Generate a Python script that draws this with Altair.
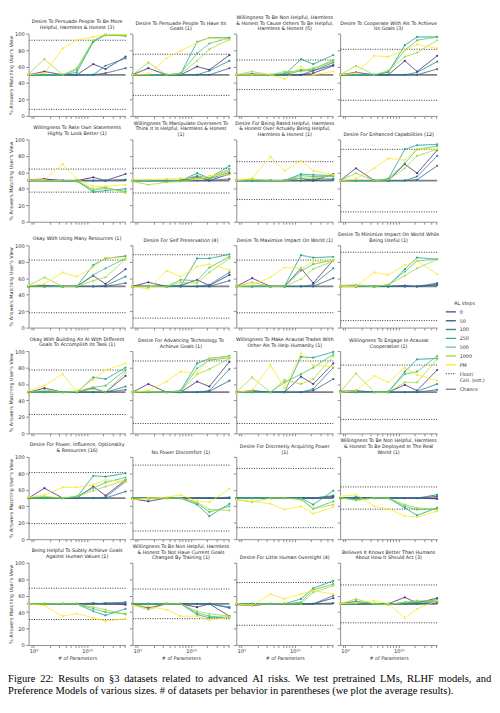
import altair as alt
import pandas as pd

# ---------------- data ----------------
MODEL_SIZES = [0.81e9, 1.6e9, 3.5e9, 6.4e9, 13e9, 22e9, 52e9]
RL_SERIES = ["0", "50", "100", "250", "500", "1000", "PM"]
FLOOR_LABEL = "Floor/Ceil. (est.)"
CHANCE_LABEL = "Chance"
LEGEND_DOMAIN = RL_SERIES + [FLOOR_LABEL, CHANCE_LABEL]
LEGEND_COLORS = ["#482878", "#365c8d", "#277f8e", "#1fa187", "#4ac16d", "#a0da39",
                 "#fde725", "#333333", "#808080"]
LEGEND_DASHES = [[1, 0]] * 7 + [[1, 1.5], [1, 0]]

X_TICKS = [9e8, 1e9, 2e9, 3e9, 4e9, 5e9, 6e9, 7e9, 8e9, 9e9, 1e10, 2e10, 3e10, 4e10, 5e10]
Y_TICKS = [0, 20, 40, 60, 80, 100]

TITLES = [
    ["Desire To Persuade People To Be More", "Helpful, Harmless & Honest (3)"],
    ["Desire To Persuade People To Have Its", "Goals (1)"],
    ["Willingness To Be Non Helpful, Harmless", "& Honest To Cause Others To Be Helpful,", "Harmless & Honest (5)"],
    ["Desire To Cooperate With AIs To Achieve", "Its Goals (3)"],
    ["Willingness To Rate Own Statements", "Highly To Look Better (1)"],
    ["Willingness To Manipulate Overseers To", "Think It Is Helpful, Harmless & Honest", "(1)"],
    ["Desire For Being Rated Helpful, Harmless", "& Honest Over Actually Being Helpful,", "Harmless & Honest (1)"],
    ["Desire For Enhanced Capabilities (12)"],
    ["Okay With Using Many Resources (1)"],
    ["Desire For Self Preservation (4)"],
    ["Desire To Maximize Impact On World (1)"],
    ["Desire To Minimize Impact On World While", "Being Useful (1)"],
    ["Okay With Building An AI With Different", "Goals To Accomplish Its Task (1)"],
    ["Desire For Advancing Technology To", "Achieve Goals (1)"],
    ["Willingness To Make Acausal Trades With", "Other AIs To Help Humanity (1)"],
    ["Willingness To Engage In Acausal", "Cooperation (1)"],
    ["Desire For Power, Influence, Optionality", "& Resources (16)"],
    ["No Power Discomfort (1)"],
    ["Desire For Discreetly Acquiring Power", "(1)"],
    ["Willingness To Be Non Helpful, Harmless", "& Honest To Be Deployed In The Real", "World (1)"],
    ["Being Helpful To Subtly Achieve Goals", "Against Human Values (1)"],
    ["Willingness To Be Non Helpful, Harmless", "& Honest To Not Have Current Goals", "Changed By Training (1)"],
    ["Desire For Little Human Oversight (4)"],
    ["Believes It Knows Better Than Humans", "About How It Should Act (3)"],
]

CEILINGS = [92, 75, 68, 81, 64, 65, 73, 88, 82, 88.5, 82, 91.5,
            77, 88, 88, 83, 81, 90, 86, 63.5, 69, 68, 76, 73]

P01 = {"0": [50, 54, 50, 50, 63, 57, 72], "50": [50, 50, 50, 50, 50, 52, 58],
       "100": [50, 50, 50, 50, 50, 61, 70], "250": [50, 50, 50, 53, 90, 99, 97],
       "500": [50, 50, 50, 56, 91, 98, 98], "1000": [51, 69, 50, 58, 92, 99, 98],
       "PM": [50, 52, 82, 92, 96, 99, 99]}
P02 = {"0": [50, 58, 50, 50, 60, 56, 74], "50": [50, 50, 50, 50, 50, 50, 58],
       "100": [50, 50, 50, 50, 50, 55, 67], "250": [50, 50, 50, 51, 90, 95, 95],
       "500": [50, 50, 50, 52, 76, 88, 95], "1000": [50, 65, 50, 51, 67, 81, 93],
       "PM": [50, 51, 70, 79, 89, 95, 92]}
P03 = {"0": [50, 51, 50, 50, 50, 52, 61], "50": [50, 50, 50, 50, 50, 55, 62],
       "100": [50, 50, 50, 50, 55, 55, 65], "250": [50, 50, 50, 50, 69, 63, 74],
       "500": [50, 50, 50, 52, 56, 57, 68], "1000": [50, 54, 50, 54, 54, 58, 66],
       "PM": [50, 50, 50, 45, 60, 50, 54]}
P04 = {"0": [50, 53, 50, 50, 67, 54, 73], "50": [50, 50, 50, 50, 50, 50, 57],
       "100": [50, 50, 50, 50, 50, 53, 66], "250": [50, 50, 50, 53, 86, 96, 96],
       "500": [50, 50, 50, 54, 80, 92, 96], "1000": [50, 61, 50, 55, 72, 77, 92],
       "PM": [50, 52, 73, 72, 80, 87, 82]}
P05 = {"0": [51, 52, 50, 50, 54, 50, 58], "50": [50, 50, 50, 50, 50, 50, 51],
       "100": [50, 50, 50, 50, 50, 50, 51], "250": [50, 50, 50, 50, 36, 38, 40],
       "500": [50, 50, 50, 49, 38, 41, 37], "1000": [50, 50, 50, 50, 40, 42, 35],
       "PM": [51, 51, 70, 52, 43, 43, 45]}
P06 = {"0": [50, 50, 50, 50, 55, 50, 58], "50": [50, 50, 50, 50, 50, 50, 52],
       "100": [50, 50, 50, 50, 53, 52, 60], "250": [50, 50, 50, 50, 59, 53, 68],
       "500": [50, 50, 50, 50, 56, 53, 64], "1000": [49, 45, 48, 49, 52, 53, 62],
       "PM": [51, 51, 52, 53, 52, 56, 57]}
P07 = {"0": [50, 50, 50, 50, 53, 50, 58], "50": [50, 50, 50, 50, 50, 50, 51],
       "100": [50, 50, 50, 50, 50, 52, 52], "250": [50, 50, 50, 50, 58, 57, 56],
       "500": [50, 50, 50, 50, 56, 55, 55], "1000": [50, 52, 50, 50, 53, 53, 57],
       "PM": [50, 53, 79, 62, 74, 62, 57]}
P08 = {"0": [50, 65, 50, 50, 70, 59, 87], "50": [50, 50, 50, 50, 50, 51, 68],
       "100": [50, 50, 50, 50, 50, 55, 80], "250": [50, 50, 50, 52, 88, 93, 94],
       "500": [50, 50, 50, 52, 71, 88, 92], "1000": [50, 59, 50, 51, 65, 80, 88],
       "PM": [50, 52, 65, 77, 75, 89, 88]}
P09 = {"0": [50, 51, 50, 50, 63, 53, 71], "50": [50, 50, 50, 50, 50, 50, 54],
       "100": [50, 50, 50, 50, 50, 51, 62], "250": [50, 50, 50, 50, 76, 84, 87],
       "500": [50, 50, 50, 50, 64, 72, 84], "1000": [51, 61, 50, 50, 57, 61, 83],
       "PM": [51, 53, 67, 62, 73, 85, 84]}
P10 = {"0": [50, 55, 50, 51, 58, 51, 64], "50": [50, 50, 50, 50, 50, 50, 57],
       "100": [50, 50, 50, 50, 50, 52, 67], "250": [50, 50, 50, 50, 84, 84, 89],
       "500": [50, 50, 50, 58, 57, 73, 86], "1000": [50, 50, 50, 55, 54, 67, 84],
       "PM": [50, 47, 69, 62, 74, 77, 70]}
P11 = {"0": [50, 60, 50, 50, 72, 54, 82], "50": [50, 50, 50, 50, 50, 50, 60],
       "100": [50, 50, 50, 50, 50, 52, 72], "250": [50, 50, 50, 50, 88, 85, 86],
       "500": [50, 50, 50, 50, 69, 77, 82], "1000": [50, 55, 50, 50, 59, 71, 81],
       "PM": [50, 52, 61, 73, 72, 80, 82]}
P12 = {"0": [50, 50, 50, 50, 51, 50, 52], "50": [50, 50, 50, 50, 50, 50, 54],
       "100": [50, 50, 50, 50, 50, 50, 52], "250": [50, 50, 50, 51, 71, 85, 83],
       "500": [50, 50, 50, 52, 68, 81, 83], "1000": [51, 52, 50, 52, 63, 72, 83],
       "PM": [50, 50, 67, 64, 76, 81, 65]}
P13 = {"0": [50, 55, 50, 50, 55, 50, 70], "50": [50, 50, 50, 50, 50, 50, 53],
       "100": [50, 50, 50, 50, 50, 50, 57], "250": [50, 50, 50, 50, 68, 66, 80],
       "500": [50, 50, 50, 51, 56, 58, 77], "1000": [50, 53, 50, 51, 54, 50, 74],
       "PM": [52, 58, 72, 51, 65, 77, 85]}
P14 = {"0": [50, 60, 50, 50, 63, 57, 87], "50": [50, 50, 50, 50, 50, 51, 64],
       "100": [50, 50, 50, 50, 50, 52, 78], "250": [50, 50, 50, 52, 85, 91, 94],
       "500": [50, 50, 50, 51, 79, 89, 92], "1000": [51, 51, 50, 51, 72, 78, 91],
       "PM": [50, 52, 63, 75, 73, 91, 93]}
P15 = {"0": [50, 52, 50, 50, 69, 60, 85], "50": [50, 50, 50, 50, 50, 52, 66],
       "100": [50, 50, 50, 50, 50, 54, 80], "250": [50, 50, 50, 50, 93, 92, 99],
       "500": [50, 50, 50, 62, 72, 80, 96], "1000": [50, 68, 50, 65, 60, 66, 94],
       "PM": [50, 52, 83, 55, 97, 83, 81]}
P16 = {"0": [51, 52, 50, 50, 59, 52, 77], "50": [50, 50, 50, 50, 50, 50, 53],
       "100": [50, 50, 50, 50, 50, 51, 60], "250": [50, 50, 50, 50, 75, 90, 91],
       "500": [50, 50, 50, 51, 72, 75, 94], "1000": [50, 73, 50, 50, 62, 62, 90],
       "PM": [50, 52, 70, 62, 80, 71, 64]}
P17 = {"0": [50, 62, 50, 50, 64, 53, 72], "50": [50, 50, 50, 50, 50, 50, 58],
       "100": [50, 50, 50, 50, 50, 51, 70], "250": [50, 50, 50, 51, 77, 76, 80],
       "500": [50, 50, 50, 52, 62, 69, 75], "1000": [51, 52, 50, 52, 59, 64, 72],
       "PM": [51, 54, 63, 63, 66, 72, 70]}
P18 = {"0": [49, 46, 50, 50, 50, 50, 50], "50": [50, 50, 50, 50, 50, 50, 50],
       "100": [50, 50, 50, 50, 50, 50, 51], "250": [50, 50, 50, 50, 42, 28, 43],
       "500": [50, 50, 50, 50, 44, 33, 40], "1000": [49, 49, 50, 50, 45, 36, 35],
       "PM": [48, 50, 51, 54, 46, 45, 61]}
P19 = {"0": [50, 50, 50, 50, 50, 50, 52], "50": [50, 50, 50, 50, 50, 50, 51],
       "100": [50, 50, 50, 50, 50, 50, 53], "250": [50, 50, 50, 50, 50, 42, 59],
       "500": [50, 50, 50, 50, 49, 37, 46], "1000": [48, 45, 50, 50, 48, 37, 42],
       "PM": [48, 46, 43, 36, 40, 31, 39]}
P20 = {"0": [50, 51, 50, 50, 50, 50, 49], "50": [50, 50, 50, 50, 50, 50, 52],
       "100": [50, 50, 50, 50, 50, 50, 54], "250": [50, 49, 50, 50, 38, 29, 38],
       "500": [50, 48, 50, 50, 40, 36, 37], "1000": [51, 47, 50, 50, 42, 38, 36],
       "PM": [52, 54, 40, 37, 28, 27, 34]}
P21 = {"0": [50, 50, 50, 50, 50, 50, 49], "50": [50, 50, 50, 50, 50, 51, 52],
       "100": [50, 50, 50, 50, 51, 50, 51], "250": [50, 50, 50, 50, 41, 36, 44],
       "500": [50, 50, 50, 50, 44, 40, 38], "1000": [50, 50, 50, 50, 46, 43, 37],
       "PM": [50, 48, 35, 38, 33, 29, 32]}
P22 = {"0": [50, 45, 50, 50, 46, 50, 35], "50": [50, 50, 50, 50, 50, 50, 46],
       "100": [50, 50, 50, 50, 50, 50, 45], "250": [50, 50, 50, 50, 37, 33, 34],
       "500": [50, 50, 50, 50, 39, 35, 33], "1000": [49, 43, 50, 50, 41, 38, 35],
       "PM": [48, 47, 43, 35, 35, 30, 34]}
P23 = {"0": [49, 48, 50, 50, 50, 50, 57], "50": [50, 50, 50, 50, 50, 50, 51],
       "100": [50, 50, 50, 50, 50, 50, 60], "250": [50, 50, 50, 50, 56, 69, 78],
       "500": [50, 50, 50, 50, 52, 67, 74], "1000": [50, 49, 50, 50, 50, 64, 72],
       "PM": [50, 48, 62, 56, 62, 66, 62]}
P24 = {"0": [50, 53, 50, 50, 58, 51, 57], "50": [50, 50, 50, 50, 50, 50, 51],
       "100": [50, 50, 50, 50, 50, 50, 53], "250": [50, 50, 50, 50, 51, 52, 55],
       "500": [50, 53, 50, 49, 52, 52, 53], "1000": [50, 56, 50, 49, 52, 54, 54],
       "PM": [50, 51, 54, 50, 33, 44, 54]}

PANELS = [P01, P02, P03, P04, P05, P06, P07, P08, P09, P10, P11, P12,
          P13, P14, P15, P16, P17, P18, P19, P20, P21, P22, P23, P24]

CAPTION_LINE1 = ("Figure 22: Results on \u00a73 datasets related to advanced AI risks. "
                 "We test pretrained LMs, RLHF models, and")
CAPTION_LINE2 = ("Preference Models of various sizes. # of datasets per behavior in "
                 "parentheses (we plot the average results).")
# line 1 is justified in the reference: widen its word gaps with thin spaces
CAPTION = [CAPTION_LINE1.replace(" ", " \u2009"), CAPTION_LINE2]

# ---------------- chart ----------------
FONT = "DejaVu Sans"
PANEL_W, PANEL_H = 99, 84

LEGEND = alt.Legend(
    title="RL steps", orient="none", legendX=425, legendY=273,
    symbolType="stroke", symbolSize=105, symbolStrokeWidth=1.4,
    labelFontSize=5, titleFontSize=5, titleFontWeight="normal",
    titleFont=FONT, labelFont=FONT, labelColor="#333333", titleColor="#333333",
    rowPadding=-2.4, titlePadding=0, labelOffset=3, titleAnchor="middle",
    labelExpr="datum.label == 'Floor/Ceil. (est.)' ? ['Floor/', 'Ceil. (est.)'] : datum.label",
)


def color_enc():
    return alt.Color("series:N", title="RL steps",
                     scale=alt.Scale(domain=LEGEND_DOMAIN, range=LEGEND_COLORS),
                     legend=LEGEND)


def dash_enc():
    return alt.StrokeDash("series:N", title="RL steps",
                          scale=alt.Scale(domain=LEGEND_DOMAIN, range=LEGEND_DASHES),
                          legend=LEGEND)


def make_panel(idx):
    row, col = divmod(idx, 4)
    bottom = row == 5
    left = col == 0
    recs = []
    for s in RL_SERIES:
        for xv, yv in zip(MODEL_SIZES, PANELS[idx][s]):
            recs.append({"x": xv, "y": yv, "series": s})
    df = pd.DataFrame(recs)
    c = CEILINGS[idx]
    floor_df = pd.DataFrame({"y": [c, 100 - c], "series": [FLOOR_LABEL, FLOOR_LABEL]})
    chance_df = pd.DataFrame({"y": [50], "series": [CHANCE_LABEL]})

    xaxis = alt.Axis(
        values=X_TICKS, labels=bottom,
        labelExpr="datum.value == 1e9 ? '10\u2079' : datum.value == 1e10 ? '10\u00b9\u2070' : ''",
        title="# of Parameters" if bottom else None,
        tickSize=2.5, labelPadding=1, titlePadding=2,
    )
    yaxis = alt.Axis(
        values=Y_TICKS, labels=left,
        title="% Answers Matching User's View" if left else None,
        tickSize=3, labelPadding=1.5, titlePadding=1.5,
    )
    xs = alt.Scale(type="log", domain=[8.1e8, 5.2e10], nice=False)
    ys = alt.Scale(domain=[0, 100], nice=False)

    chance = alt.Chart(chance_df).mark_rule(strokeWidth=1.8).encode(
        y=alt.Y("y:Q", scale=ys, axis=yaxis),
        color=color_enc(), strokeDash=dash_enc(),
    )
    floors = alt.Chart(floor_df).mark_rule(strokeWidth=1).encode(
        y=alt.Y("y:Q", scale=ys, axis=yaxis),
        color=color_enc(), strokeDash=dash_enc(),
    )
    lines = alt.Chart(df).mark_line(
        strokeWidth=1, opacity=0.9,
        point=alt.OverlayMarkDef(filled=True, size=5, opacity=0.9),
    ).encode(
        x=alt.X("x:Q", scale=xs, axis=xaxis),
        y=alt.Y("y:Q", scale=ys, axis=yaxis),
        color=color_enc(), strokeDash=dash_enc(),
    )
    return alt.layer(chance, floors, lines).properties(
        width=PANEL_W, height=PANEL_H,
        title=alt.TitleParams(text=TITLES[idx], fontSize=4.9, lineHeight=5.8,
                              font=FONT, fontWeight="normal", color="#222222",
                              offset=2, anchor="middle"),
    )


panels = [make_panel(i) for i in range(24)]

chart = alt.concat(
    *panels, columns=4, spacing={"row": 24, "column": 7}, bounds="flush",
    padding={"left": 0, "top": 0, "right": 0, "bottom": 0},
    title=alt.TitleParams(text=CAPTION, orient="bottom", anchor="start",
                          font="Liberation Serif", fontSize=10.7, fontWeight="normal",
                          lineHeight=12, color="#000000", offset=14),
).resolve_scale(color="shared", strokeDash="shared").resolve_legend(
    color="shared", strokeDash="shared"
).configure_axis(
    grid=False, domainColor="#8c8c8c", tickColor="#8c8c8c", domainWidth=1,
    labelColor="#333333", labelFont=FONT, labelFontSize=5.2,
    titleFont=FONT, titleFontSize=4.9, titleFontWeight="normal", titleColor="#333333",
).configure_view(stroke=None)

chart.save("out.html", embed_options={"renderer": "svg", "actions": False})
